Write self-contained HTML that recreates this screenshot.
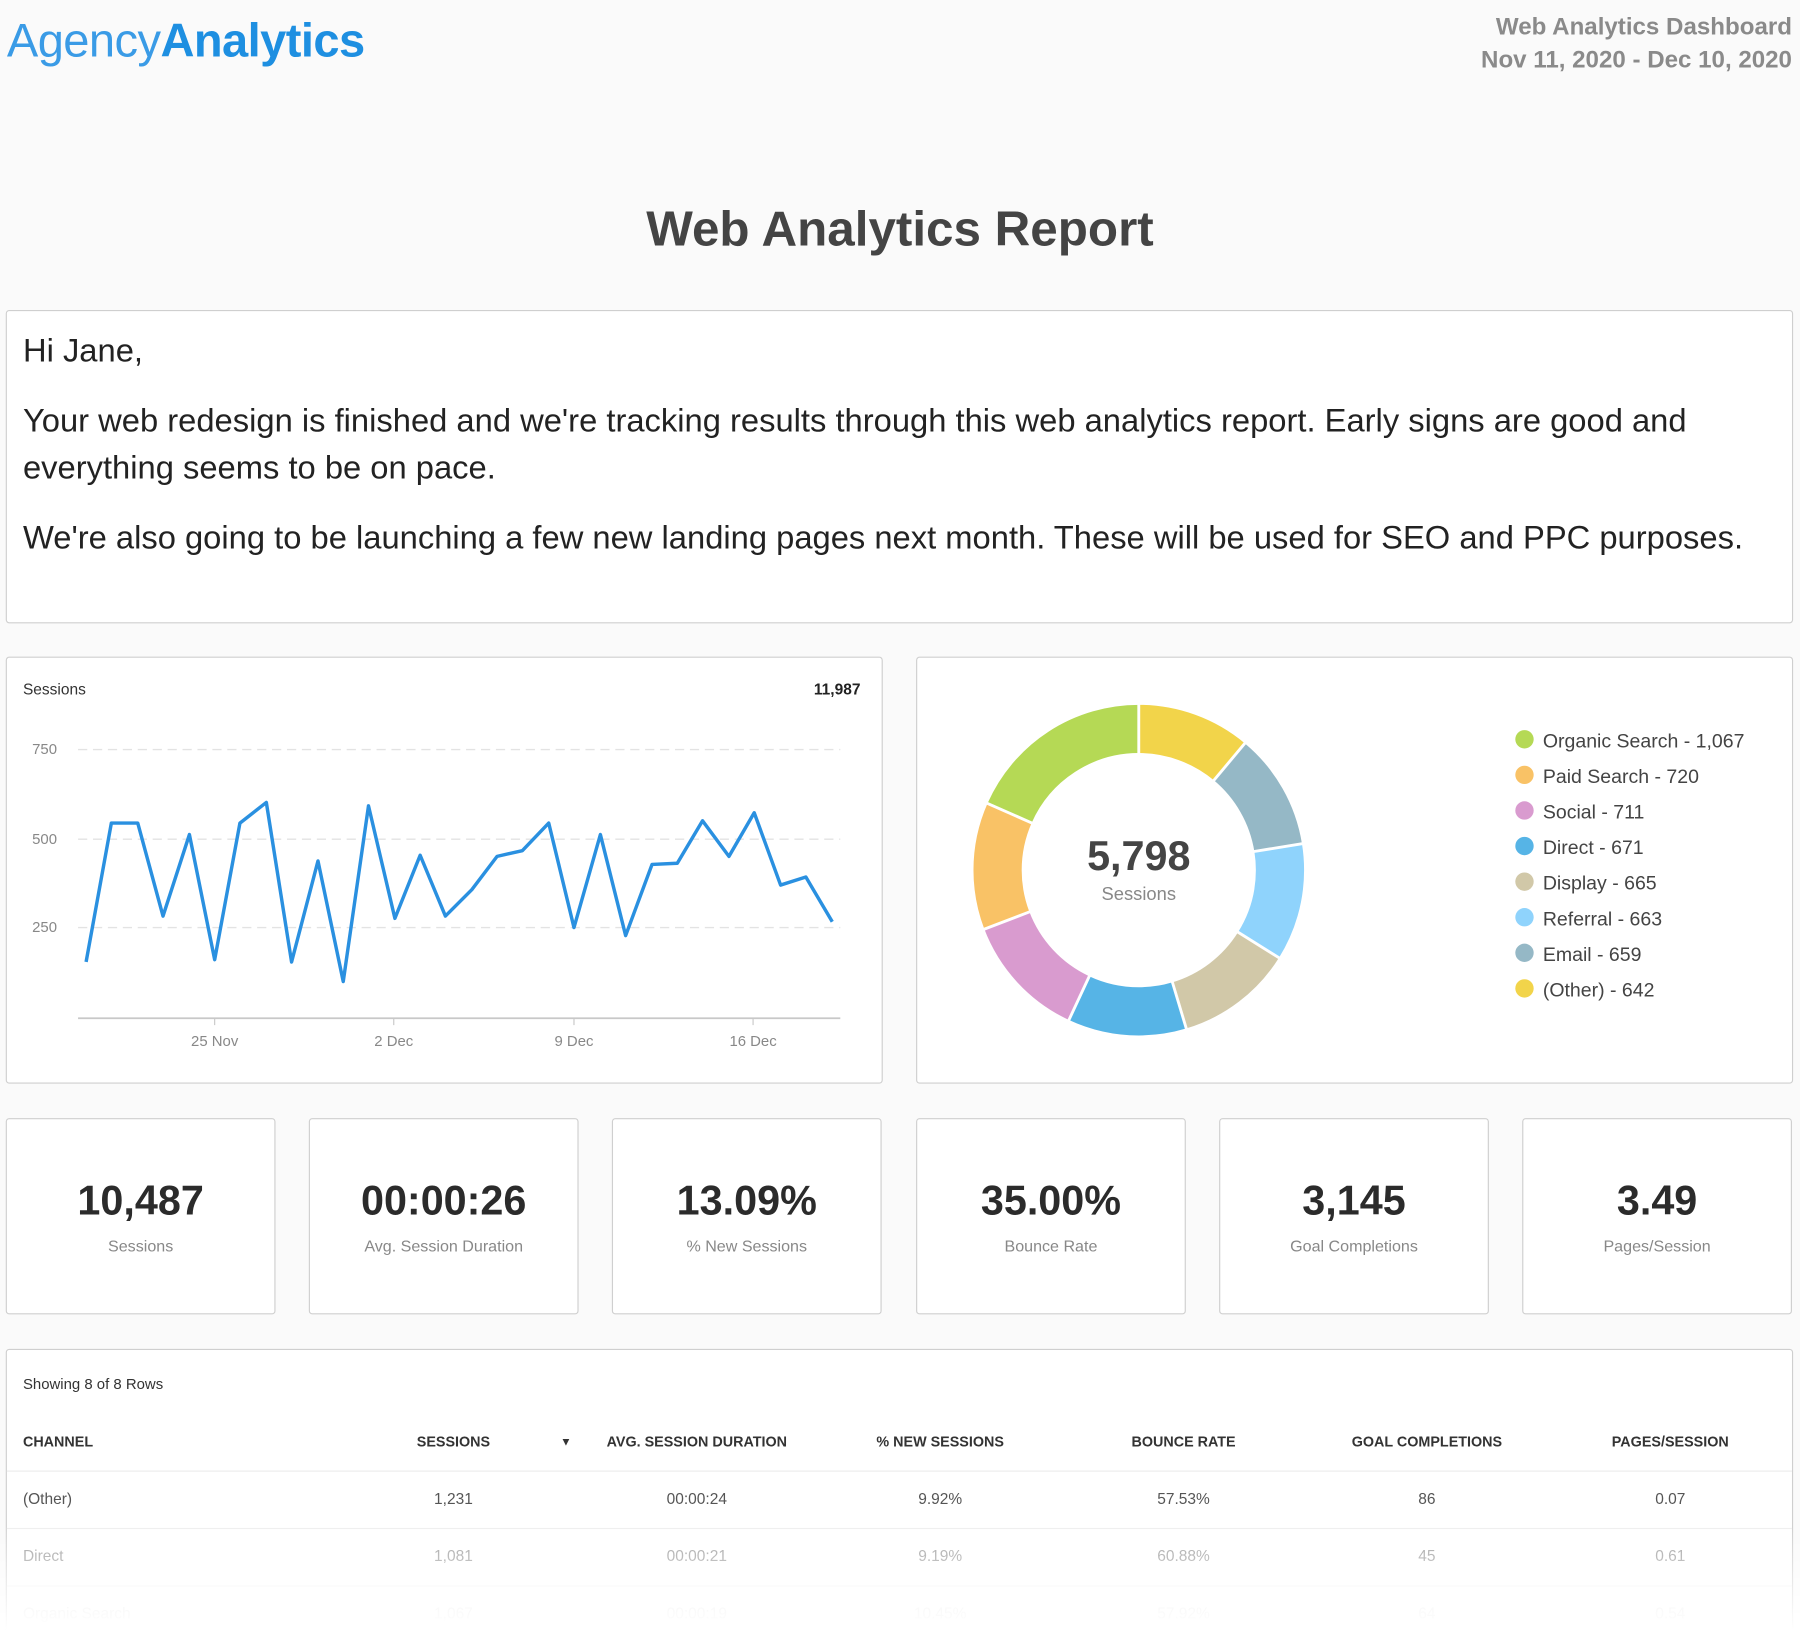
<!DOCTYPE html>
<html><head><meta charset="utf-8"><style>
html,body{margin:0;padding:0;background:#fafafa;width:1800px;height:1630px;overflow:hidden;}
body{font-family:"Liberation Sans",sans-serif;}
#w{position:absolute;left:0;top:0;width:1568px;height:1420px;transform:scale(1.14796);transform-origin:0 0;overflow:hidden;}
.a{position:absolute;}
.card{position:absolute;background:#fff;border:1px solid #cfcfcf;border-radius:3px;box-sizing:border-box;}
.stat{top:974px;width:235px;height:171px;text-align:center;}
.stat .v{position:absolute;left:0;right:0;top:50px;font-size:36px;font-weight:bold;color:#2b2b2b;}
.stat .l{position:absolute;left:0;right:0;top:102px;font-size:14px;color:#888;}
.th{position:absolute;top:1249px;font-size:12.5px;font-weight:bold;color:#333;white-space:nowrap;}
.td{position:absolute;font-size:13.5px;color:#555;white-space:nowrap;transform:translateX(-50%);}
.c{transform:translateX(-50%);}
</style></head><body><div id="w">
<div class="a" style="left:6px;top:12px;font-size:41px;color:#1e8fe1;letter-spacing:-0.5px;"><span style="font-weight:300;color:#3a9be6;">Agency</span><span style="font-weight:bold;">Analytics</span></div>
<div class="a" style="right:7px;top:9px;text-align:right;font-size:21px;color:#8a8a8a;line-height:29px;font-weight:bold;">Web Analytics Dashboard<br>Nov 11, 2020 - Dec 10, 2020</div>
<div class="a" style="left:0;width:1568px;text-align:center;top:176px;font-size:43px;font-weight:bold;color:#444;">Web Analytics Report</div>

<div class="card" style="left:5px;top:270px;width:1557px;height:273px;">
<div class="a" style="left:14px;top:15px;font-size:28.5px;color:#222;line-height:41px;width:1530px;">Hi Jane,<div style="height:20px"></div>Your web redesign is finished and we're tracking results through this web analytics report. Early signs are good and everything seems to be on pace.<div style="height:20px"></div>We're also going to be launching a few new landing pages next month. These will be used for SEO and PPC purposes.</div>
</div>

<div class="card" style="left:5px;top:572px;width:764px;height:372px;"></div>
<div class="a" style="left:20px;top:593px;font-size:13.5px;color:#333;">Sessions</div>
<div class="a" style="left:709px;top:593px;font-size:13.5px;color:#222;font-weight:bold;">11,987</div>
<svg class="a" style="left:0;top:0" width="800" height="950">
<g stroke="#e3e3e3" stroke-width="1.2" stroke-dasharray="8,5"><line x1="68" y1="653" x2="732" y2="653"/><line x1="68" y1="731" x2="732" y2="731"/><line x1="68" y1="808" x2="732" y2="808"/></g>
<line x1="68" y1="887" x2="732" y2="887" stroke="#c8c8c8" stroke-width="1.5"/>
<g stroke="#c8c8c8"><line x1="187" y1="887" x2="187" y2="893"/><line x1="343" y1="887" x2="343" y2="893"/><line x1="500" y1="887" x2="500" y2="893"/><line x1="656" y1="887" x2="656" y2="893"/></g>
<g font-family="Liberation Sans,sans-serif" font-size="13" fill="#888"><text x="28" y="657">750</text><text x="28" y="735">500</text><text x="28" y="812">250</text>
<text x="187" y="911" text-anchor="middle">25 Nov</text><text x="343" y="911" text-anchor="middle">2 Dec</text><text x="500" y="911" text-anchor="middle">9 Dec</text><text x="656" y="911" text-anchor="middle">16 Dec</text></g>
<polyline fill="none" stroke="#2a90e0" stroke-width="3" stroke-linejoin="round" points="75,838 97,717 120,717 142,798 165,727 187,836 209,717 232,699 254,838 277,750 299,855 321,702 344,800 366,745 388,798 411,775 433,746 455,741 478,717 500,808 523,727 545,815 568,753 590,752 612,715 635,746 657,708 680,771 702,764 725,803"/>
</svg>

<div class="card" style="left:798px;top:572px;width:764px;height:372px;"></div>
<svg class="a" style="left:0;top:0" width="1568" height="950">
<g transform="translate(992,758) rotate(-90)" fill="none" stroke-width="42">
<circle r="123" stroke="#f2d44a" stroke-dasharray="85.6 800" stroke-dashoffset="0"/>
<circle r="123" stroke="#95b8c6" stroke-dasharray="87.8 800" stroke-dashoffset="-85.6"/>
<circle r="123" stroke="#8fd3fc" stroke-dasharray="88.5 800" stroke-dashoffset="-173.4"/>
<circle r="123" stroke="#d1c8a8" stroke-dasharray="88.7 800" stroke-dashoffset="-261.9"/>
<circle r="123" stroke="#56b4e6" stroke-dasharray="89.5 800" stroke-dashoffset="-350.6"/>
<circle r="123" stroke="#d99bcf" stroke-dasharray="94.7 800" stroke-dashoffset="-440.1"/>
<circle r="123" stroke="#f9c266" stroke-dasharray="95.9 800" stroke-dashoffset="-534.8"/>
<circle r="123" stroke="#b5d955" stroke-dasharray="142.2 800" stroke-dashoffset="-630.7"/>
</g>
<g transform="translate(992,758)" stroke="#fff" stroke-width="2.5">
<line x1="0" y1="-99" x2="0" y2="-147" transform="rotate(0)"/><line x1="0" y1="-99" x2="0" y2="-147" transform="rotate(39.9)"/><line x1="0" y1="-99" x2="0" y2="-147" transform="rotate(80.8)"/><line x1="0" y1="-99" x2="0" y2="-147" transform="rotate(122)"/><line x1="0" y1="-99" x2="0" y2="-147" transform="rotate(163.3)"/><line x1="0" y1="-99" x2="0" y2="-147" transform="rotate(205)"/><line x1="0" y1="-99" x2="0" y2="-147" transform="rotate(249.1)"/><line x1="0" y1="-99" x2="0" y2="-147" transform="rotate(293.8)"/>
</g>
<text x="992" y="758" text-anchor="middle" font-family="Liberation Sans,sans-serif" font-size="36" font-weight="bold" fill="#444">5,798</text>
<text x="992" y="784" text-anchor="middle" font-family="Liberation Sans,sans-serif" font-size="16" fill="#888">Sessions</text>
<g font-family="Liberation Sans,sans-serif" font-size="17" fill="#444">
<circle cx="1328" cy="644" r="8" fill="#b5d955"/><text x="1344" y="651">Organic Search - 1,067</text>
<circle cx="1328" cy="675" r="8" fill="#f9c266"/><text x="1344" y="682">Paid Search - 720</text>
<circle cx="1328" cy="706" r="8" fill="#d99bcf"/><text x="1344" y="713">Social - 711</text>
<circle cx="1328" cy="737" r="8" fill="#56b4e6"/><text x="1344" y="744">Direct - 671</text>
<circle cx="1328" cy="768" r="8" fill="#d1c8a8"/><text x="1344" y="775">Display - 665</text>
<circle cx="1328" cy="799" r="8" fill="#8fd3fc"/><text x="1344" y="806">Referral - 663</text>
<circle cx="1328" cy="830" r="8" fill="#95b8c6"/><text x="1344" y="837">Email - 659</text>
<circle cx="1328" cy="861" r="8" fill="#f2d44a"/><text x="1344" y="868">(Other) - 642</text>
</g>
</svg>

<div class="card stat" style="left:5px"><div class="v">10,487</div><div class="l">Sessions</div></div>
<div class="card stat" style="left:269px"><div class="v">00:00:26</div><div class="l">Avg. Session Duration</div></div>
<div class="card stat" style="left:533px"><div class="v">13.09%</div><div class="l">% New Sessions</div></div>
<div class="card stat" style="left:798px"><div class="v">35.00%</div><div class="l">Bounce Rate</div></div>
<div class="card stat" style="left:1062px"><div class="v">3,145</div><div class="l">Goal Completions</div></div>
<div class="card stat" style="left:1326px"><div class="v">3.49</div><div class="l">Pages/Session</div></div>

<div class="card" style="left:5px;top:1175px;width:1557px;height:300px;"></div>
<div class="a" style="left:20px;top:1198px;font-size:13px;color:#333;">Showing 8 of 8 Rows</div>
<div class="th" style="left:20px">CHANNEL</div>
<div class="th c" style="left:395px">SESSIONS</div>
<div class="th" style="left:488px;font-size:10px;top:1251px">&#9660;</div>
<div class="th c" style="left:607px">AVG. SESSION DURATION</div>
<div class="th c" style="left:819px">% NEW SESSIONS</div>
<div class="th c" style="left:1031px">BOUNCE RATE</div>
<div class="th c" style="left:1243px">GOAL COMPLETIONS</div>
<div class="th c" style="left:1455px">PAGES/SESSION</div>
<div class="a" style="left:6px;top:1281px;width:1555px;height:1px;background:#ececec"></div>
<div class="a" style="left:6px;top:1331px;width:1555px;height:1px;background:#efefef"></div>
<div class="a" style="left:6px;top:1381px;width:1555px;height:1px;background:#f3f3f3"></div>
<div class="td" style="left:20px;top:1298px;transform:none">(Other)</div>
<div class="td" style="left:395px;top:1298px">1,231</div><div class="td" style="left:607px;top:1298px">00:00:24</div><div class="td" style="left:819px;top:1298px">9.92%</div><div class="td" style="left:1031px;top:1298px">57.53%</div><div class="td" style="left:1243px;top:1298px">86</div><div class="td" style="left:1455px;top:1298px">0.07</div>
<div style="opacity:0.55">
<div class="td" style="left:20px;top:1348px;transform:none">Direct</div>
<div class="td" style="left:395px;top:1348px">1,081</div><div class="td" style="left:607px;top:1348px">00:00:21</div><div class="td" style="left:819px;top:1348px">9.19%</div><div class="td" style="left:1031px;top:1348px">60.88%</div><div class="td" style="left:1243px;top:1348px">45</div><div class="td" style="left:1455px;top:1348px">0.61</div>
</div>
<div style="opacity:0.15">
<div class="td" style="left:20px;top:1398px;transform:none">Organic Search</div>
<div class="td" style="left:395px;top:1398px">1,067</div><div class="td" style="left:607px;top:1398px">00:00:19</div><div class="td" style="left:819px;top:1398px">10.45%</div><div class="td" style="left:1031px;top:1398px">57.92%</div><div class="td" style="left:1243px;top:1398px">64</div><div class="td" style="left:1455px;top:1398px">0.54</div>
</div>
<div class="a" style="left:0;top:1330px;width:1568px;height:90px;background:linear-gradient(rgba(255,255,255,0),rgba(255,255,255,0.5) 50%,#fff)"></div>
</div></body></html>
